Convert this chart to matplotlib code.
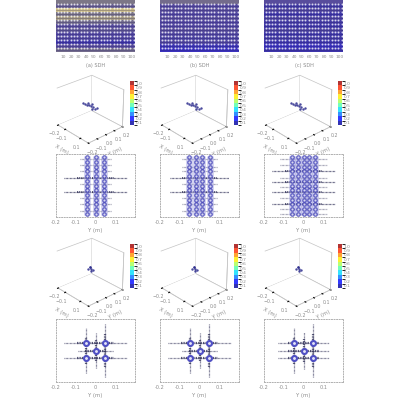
import numpy as np
import matplotlib
matplotlib.use("Agg")
import matplotlib.pyplot as plt
from matplotlib.colors import LinearSegmentedColormap, ListedColormap, BoundaryNorm
from matplotlib.cm import ScalarMappable

# band levels of the top heatmaps, top to bottom
bands_a = [0.55, 0.45, 0.85, 0.55, 0.7, 0.5, 0.35, 0.4, 0.3, 0.3, 0.18, 0.35, 0.5]
bands_b = [0.5, 0.32, 0.35, 0.3, 0.35, 0.3, 0.3, 0.35, 0.3, 0.28, 0.3, 0.12, 0.08]
bands_c = [0.35, 0.22, 0.3, 0.18, 0.28, 0.22, 0.18, 0.28, 0.18, 0.22, 0.16, 0.08, 0.16]
heat_ticks = [10, 20, 30, 40, 50, 60, 70, 80, 90, 100]
captions = ["(a) SDH", "(b) SDH", "(c) SDH"]

cbar_levels = [0.1, 0.2, 0.3, 0.4, 0.5, 0.6, 0.7, 0.8, 0.9, 1.0]
yz_ticks = [-0.2, -0.1, 0, 0.1]

# 3D blobs
blob_x = [-0.07, -0.05, -0.03, -0.01, 0.01, 0.03, 0.05, 0.07, 0.0, -0.04, 0.04]
blob_y = [-0.02, -0.02, -0.01, -0.01, 0.0, 0.01, 0.01, 0.02, 0.02, 0.01, -0.01]
blob_z = [0.03, 0.03, 0.02, 0.03, 0.02, 0.02, 0.01, 0.02, 0.03, 0.03, 0.01]
small_x = [-0.015, 0.0, 0.015, 0.0, -0.015, 0.015]
small_y = [-0.015, -0.005, 0.0, 0.01, 0.015, 0.02]
small_z = [0.02, 0.04, 0.0, 0.02, 0.03, 0.01]

# row 3: vertical bands and streaks
dense_cols = [[-0.045, 0.0, 0.045], [-0.055, -0.02, 0.015, 0.055],
              [-0.06, -0.03, 0.0, 0.03, 0.06]]
dense_long = [[0.05, -0.04], [0.05, -0.04], [0.09, 0.02, -0.04, -0.12]]
dense_long_half = [0.16, 0.15, 0.16]
dense_short = [[0.17, 0.13, 0.09, 0.01, -0.08, -0.12, -0.16],
               [0.17, 0.12, 0.09, 0.01, -0.08, -0.12, -0.16],
               [0.17, 0.13, 0.05, -0.01, -0.08, -0.15, -0.18]]
dense_short_half = [0.08, 0.09, 0.12]
dense_rows = [0.18, 0.15, 0.12, 0.09, 0.06, 0.03, 0.0, -0.03, -0.06, -0.09, -0.12, -0.15, -0.18]

# row 5: nodes and arms
node_x = [-0.05, 0.05, 0.0, -0.05, 0.05]
node_y = [0.045, 0.045, 0.0, -0.045, -0.045]
arm_x = [-0.05, 0.0, 0.05]
arm_len = [[0.14, 0.11, 0.17], [0.14, 0.11, 0.17], [0.14, 0.12, 0.17]]
arm_rows = [0.045, 0.0, -0.045]
arm_half = [[0.16, 0.09, 0.16], [0.16, 0.09, 0.16], [0.13, 0.13, 0.13]]

col_left = [56, 160, 264]
panel_w = 79
grey = "#8c8c8c"
navy = "#2a2a8c"
band_cmap = LinearSegmentedColormap.from_list(
    "bands", ["#3a30d0", "#3f36a8", "#5a4e9c", "#7a7488", "#a89c80", "#d8c888"])
jet_steps = ListedColormap(plt.get_cmap("jet")(np.linspace(0.03, 0.97, 10)))


def px_axes(fig, x, y, w, h, **kw):
    # pixel box from the top left of the 400x400 picture
    return fig.add_axes([x / 400, 1 - (y + h) / 400, w / 400, h / 400], **kw)


def box_style(ax):
    for s in ax.spines.values():
        s.set_color("#b0b0b0")
        s.set_linewidth(0.7)
        s.set_linestyle(":")
    ax.tick_params(length=0, labelsize=3.6, labelcolor=grey, pad=2)


def draw_heat(ax, bands):
    ax.imshow(np.array(bands)[:, None], aspect="auto", cmap=band_cmap, vmin=0, vmax=0.9,
              extent=[0, 105, 13, 0], interpolation="nearest")
    for r in range(1, 13):
        ax.plot([0, 105], [r + 0.45, r + 0.45], color="#1c1860", lw=0.4, alpha=0.4)
    xs, ys = np.meshgrid(np.arange(2, 105, 4.4), np.arange(1, 13))
    ax.scatter(xs.ravel(), ys.ravel(), s=2, c="white", alpha=0.8, linewidths=0)
    ax.set_xlim(0, 105)
    ax.set_ylim(13, 0)
    ax.set_xticks(heat_ticks)
    ax.set_yticks([])
    ax.tick_params(length=0, labelsize=3.2, labelcolor=grey, pad=2.5)
    for s in ax.spines.values():
        s.set_visible(False)


def draw_3d(fig, x, y, xs, ys, zs):
    ax = px_axes(fig, x - 13, y - 13, 92, 88, projection="3d")
    ax.patch.set_alpha(0)
    ax.set_box_aspect((1, 1, 0.9), zoom=0.86)
    ax.view_init(elev=28, azim=-42)
    ax.scatter(xs, ys, zs, s=3, c=navy, alpha=0.85, linewidths=0, depthshade=False)
    ax.set_xlim(-0.2, 0.2)
    ax.set_ylim(-0.2, 0.2)
    ax.set_zlim(-0.2, 0.2)
    ax.set_xticks([-0.2, -0.1, 0.1])
    ax.set_yticks([-0.2, -0.1, 0, 0.1, 0.2])
    ax.set_zticks([])
    ax.grid(False)
    for a in [ax.xaxis, ax.yaxis, ax.zaxis]:
        a.set_pane_color((1, 1, 1, 1))
        a.pane.set_edgecolor("#c4c4c4")
        a.pane.set_linewidth(0.5)
        a.line.set_color("#c4c4c4")
        a.line.set_linewidth(0.5)
    ax.tick_params(labelsize=3.4, labelcolor=grey, length=0, pad=-4)
    ax.set_xlabel("X (m)", fontsize=3.8, color=grey, labelpad=-11)
    ax.set_ylabel("Y (m)", fontsize=3.8, color=grey, labelpad=-11)
    cax = px_axes(fig, x + 74, y + 3, 4, 44)
    norm = BoundaryNorm([0.05] + [v + 0.05 for v in cbar_levels], 10)
    cb = fig.colorbar(ScalarMappable(norm=norm, cmap=jet_steps), cax=cax, ticks=cbar_levels, alpha=0.8)
    cb.outline.set_visible(False)
    cb.ax.tick_params(length=0, labelsize=3.2, labelcolor=grey, pad=1)


def streak(ax, x0, x1, y0, y1, alpha=0.75, lw=0.9):
    ax.plot([x0, x1], [y0, y1], color="#33335a", lw=lw, alpha=alpha, ls=(0, (0.6, 0.5)))


def draw_dense(ax, cols, long_y, long_half, short_y, short_half):
    for y in short_y:
        streak(ax, -short_half, short_half, y, y, 0.55)
    for y in long_y:
        streak(ax, -long_half, long_half, y, y, 0.9)
        streak(ax, -long_half * 0.6, long_half * 0.6, y, y, 0.8, 1.4)
    for c in cols:
        ax.plot([c, c], [-0.19, 0.19], color="#a8a8e4", lw=5, alpha=0.5, solid_capstyle="butt", zorder=2)
    xs, ys = np.meshgrid(cols, dense_rows)
    ax.scatter(xs.ravel(), ys.ravel(), s=12, c="#3a3ab4", alpha=0.72, linewidths=0, zorder=3)
    ax.scatter(xs.ravel(), ys.ravel(), s=2.2, c="white", alpha=0.75, linewidths=0, zorder=4)


def draw_nodes(ax, lens, half):
    for c, l in zip(arm_x, lens):
        streak(ax, c, c, -l, l)
        streak(ax, c, c, -l * 0.6, l * 0.6, 0.8, 1.6)
    for r, h in zip(arm_rows, half):
        streak(ax, -h, h, r, r)
        streak(ax, -h * 0.6, h * 0.6, r, r, 0.8, 1.6)
    ax.scatter(node_x, node_y, s=13, facecolors="#e4e4f8", edgecolors="#5050c4", linewidths=1.5, zorder=4)


fig = plt.figure(figsize=(4, 4), dpi=100, facecolor="white")

for i, bands in enumerate([bands_a, bands_b, bands_c]):
    x = col_left[i]
    draw_heat(px_axes(fig, x, 0, panel_w, 52), bands)
    fig.text((x + 40) / 400, 1 - 66 / 400, captions[i], fontsize=3.6, color=grey, ha="center", va="center")

    draw_3d(fig, x, 78, blob_x, blob_y, blob_z)
    draw_3d(fig, x, 241, small_x, small_y, small_z)

    ax = px_axes(fig, x, 154, panel_w, 63)
    draw_dense(ax, dense_cols[i], dense_long[i], dense_long_half[i], dense_short[i], dense_short_half[i])
    ax2 = px_axes(fig, x, 319, panel_w, 63)
    draw_nodes(ax2, arm_len[i], arm_half[i])
    for a in [ax, ax2]:
        a.set_xlim(-0.2, 0.2)
        a.set_ylim(-0.2, 0.2)
        a.set_xticks(yz_ticks)
        a.set_xticklabels(["-0.2", "-0.1", "0", "0.1"])
        a.set_yticks([])
        a.set_xlabel("Y (m)", fontsize=3.8, color=grey, labelpad=2)
        box_style(a)

plt.savefig("out.png", dpi=100)
